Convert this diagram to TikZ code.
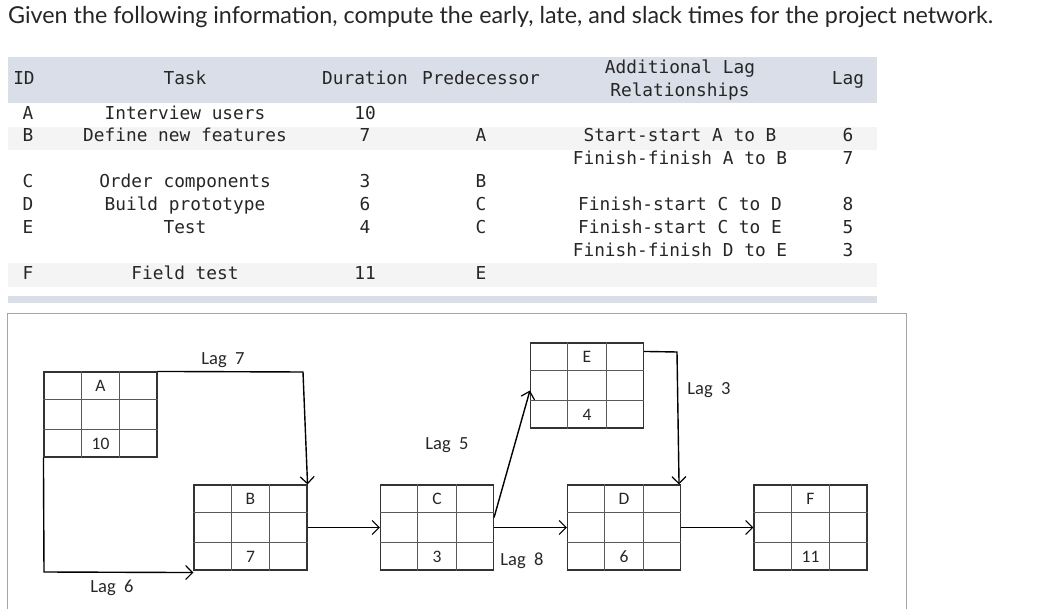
\documentclass[tikz,border=0pt]{standalone}
\usepackage{fontspec}
\setmainfont{Lato}
\newfontfamily\monof{DejaVu Sans Mono}
\newfontfamily\calf{Carlito}
\usetikzlibrary{arrows.meta}
\definecolor{hdr}{HTML}{D9DEE8}
\definecolor{stripe}{HTML}{F4F4F4}
\definecolor{txt}{HTML}{262626}
\tikzset{
  pbox/.style={draw=black!80,line width=1.1pt,minimum width=113pt,minimum height=85pt,inner sep=0pt},
  mono/.style={font=\monof\fontsize{17.8}{19}\selectfont,text=txt,inner sep=0pt,anchor=base},
  lag/.style={font=\calf\fontsize{18.5}{20}\selectfont,text=black!85,inner sep=0pt},
  cell/.style={font=\calf\fontsize{17.5}{19}\selectfont,text=black!85,inner sep=0pt},
  conn/.style={line width=1.4pt,-{Straight Barb[length=7pt,width=14pt,line width=1.2pt]}}
}
\newcommand\netbox[5]{%
  \node[pbox] (#1) at (#2,#3) {};
  \draw[black!65,line width=1.1pt] ([xshift=37.7pt]#1.north west) -- ([xshift=37.7pt]#1.south west)
     ([xshift=-37.7pt]#1.north east) -- ([xshift=-37.7pt]#1.south east)
     ([yshift=-28.3pt]#1.north west) -- ([yshift=-28.3pt]#1.north east)
     ([yshift=28.3pt]#1.south west) -- ([yshift=28.3pt]#1.south east);
  \node[cell] (#1t) at ([yshift=-14pt]#1.north) {#4};
  \node[cell] (#1b) at ([yshift=14pt]#1.south) {#5};
}
\begin{document}
\begin{tikzpicture}[x=1pt,y=-1pt]
\useasboundingbox (0,0) rectangle (1042,609);
\node[font=\fontsize{23.3}{25}\selectfont,text=txt,anchor=base west,inner sep=0pt] (title) at (8,24) {Given the following information, compute the early, late, and slack times for the project network.};
% table
\fill[hdr] (8,57) rectangle (877,103);
\fill[stripe] (8,127) rectangle (877,150);
\fill[stripe] (8,263) rectangle (877,287);
\fill[hdr] (8,296) rectangle (877,303);
\node[mono] (h1) at (24,85) {ID};
\node[mono] (h2) at (185,85) {Task};
\node[mono] (h3) at (365,85) {Duration};
\node[mono] (h4) at (481,85) {Predecessor};
\node[mono] (h5a) at (680,74) {Additional Lag};
\node[mono] (h5b) at (680,97) {Relationships};
\node[mono] (h6) at (848,85) {Lag};
\foreach \y/\i/\t/\d/\p [count=\n] in {120/A/Interview users/10/,142/B/Define new features/7/A,188/C/Order components/3/B,211/D/Build prototype/6/C,234/E/Test/4/C,280/F/Field test/11/E}{
  \node[mono] (id\n) at (28,\y) {\i};
  \node[mono] (tk\n) at (185,\y) {\t};
  \node[mono] (du\n) at (365,\y) {\d};
  \node[mono] (pr\n) at (481,\y) {\p};
}
\foreach \y/\r/\l [count=\n] in {142/Start-start A to B/6,165/Finish-finish A to B/7,211/Finish-start C to D/8,234/Finish-start C to E/5,257/Finish-finish D to E/3}{
  \node[mono] (ar\n) at (680,\y) {\r};
  \node[mono] (lg\n) at (848,\y) {\l};
}
% frame
\draw[black!35,line width=1pt] (7,609) -- (7,314) -- (906,314) -- (906,609);
% network
\netbox{A}{100.5}{414.5}{A}{10}
\netbox{B}{250.5}{527.5}{B}{7}
\netbox{C}{437}{527.5}{C}{3}
\netbox{E}{587}{385.5}{E}{4}
\netbox{D}{624}{527.5}{D}{6}
\netbox{F}{810.5}{527.5}{F}{11}
\draw[conn] (A.north east) -- (303,372) -- (B.north east);
\draw[conn] (A.south west) -- (44,572) -- ([yshift=-2pt]B.south west);
\draw[conn] (B.east) -- (C.west);
\draw[conn] ([yshift=10pt]C.east) -- ([yshift=-5pt]E.west);
\draw[conn] (C.east) -- (D.west);
\draw[conn] ([yshift=-9pt]E.north east) -- (677,352) -- ([xshift=-2pt]D.north east);
\draw[conn] (D.east) -- (F.west);
\node[lag] (l7) at (223,360) {Lag\ \ 7};
\node[lag] (l6) at (112,588) {Lag\ \ 6};
\node[lag] (l5) at (447,445) {Lag\ \ 5};
\node[lag] (l8) at (522,561) {Lag\ \ 8};
\node[lag] (l3) at (709,390) {Lag\ \ 3};
\end{tikzpicture}
\end{document}
